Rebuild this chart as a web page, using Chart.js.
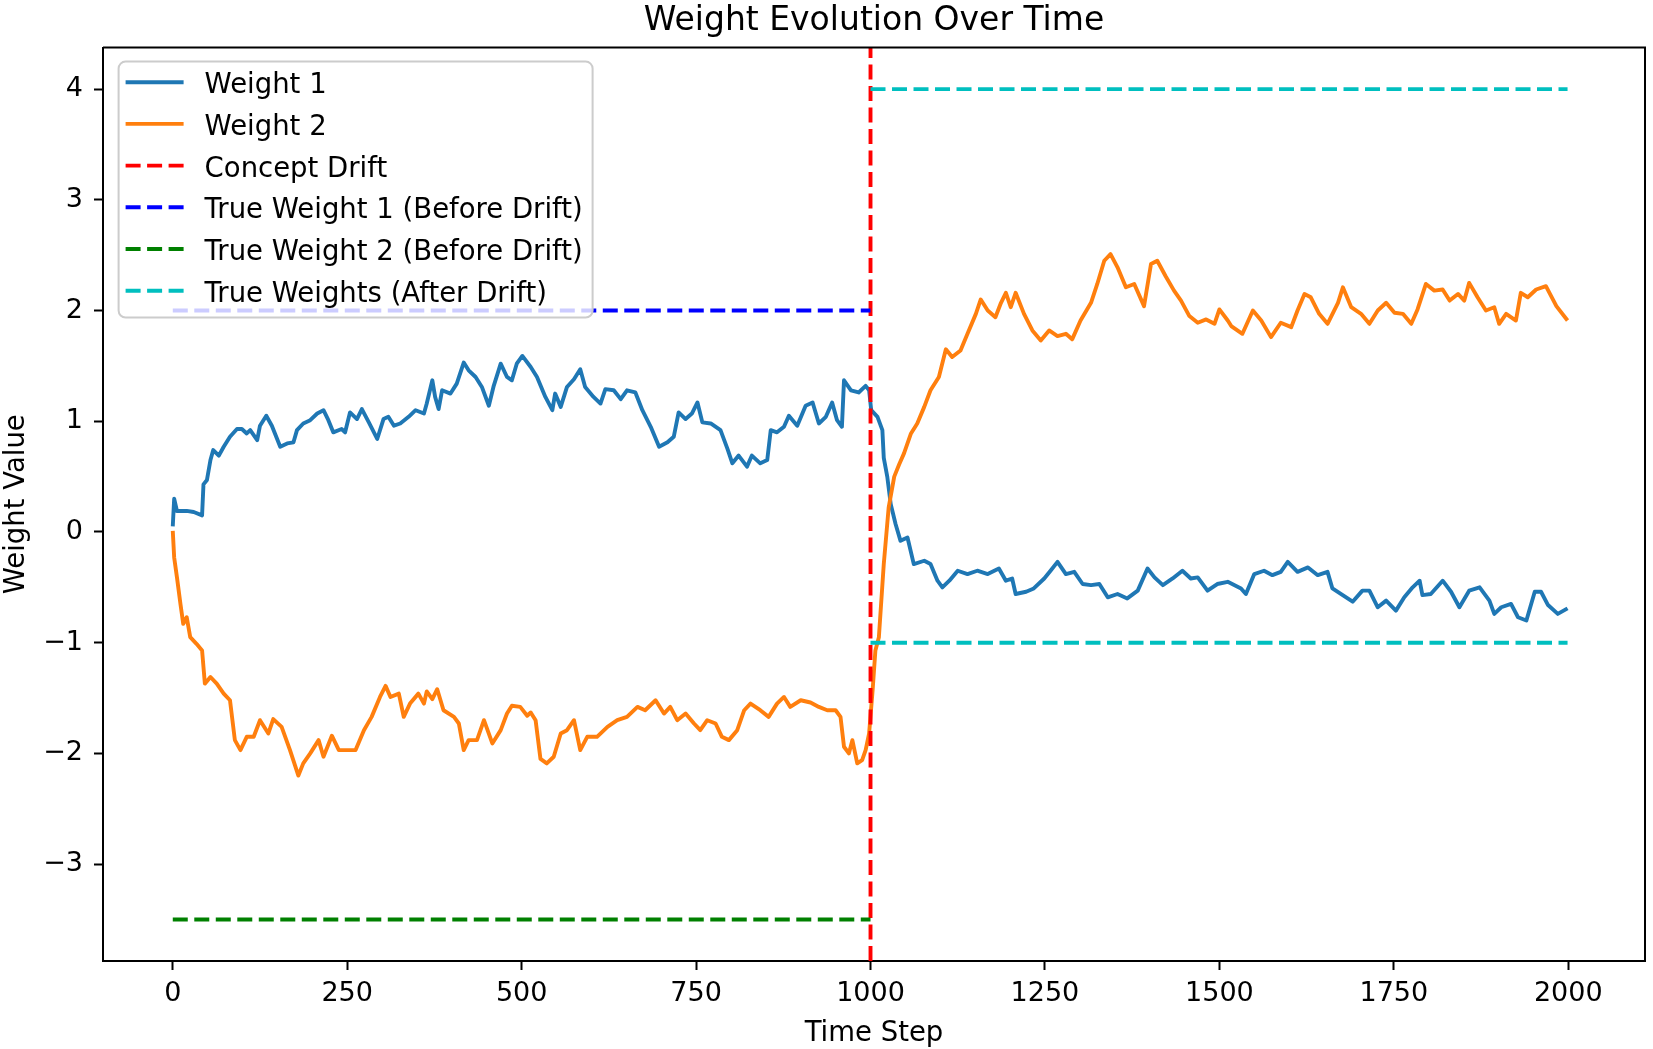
<!DOCTYPE html>
<html>
<head>
<meta charset="utf-8">
<title>Weight Evolution Over Time</title>
<script src="https://cdn.jsdelivr.net/npm/chart.js@4.4.1/dist/chart.umd.min.js"></script>
<style>
  html, body { margin: 0; padding: 0; background: #fff; }
  #grafico { display: block; }
</style>
</head>
<body>
<canvas id="grafico" width="1653" height="1049"></canvas>
<script>
// valores (passo, valor)
const w1Steps = [0, 2, 6, 20, 30, 42, 44, 49, 54, 58, 66, 73, 82, 92, 99, 106, 111, 121, 125, 134, 142, 154, 164, 173, 178, 187, 197, 207, 216, 223, 230, 242, 247, 254, 264, 271, 281, 293, 302, 309, 317, 326, 338, 348, 360, 364, 372, 376, 381, 386, 398, 407, 417, 424, 434, 443, 453, 460, 470, 479, 486, 493, 501, 513, 522, 534, 544, 548, 556, 565, 575, 584, 591, 603, 613, 620, 632, 642, 651, 663, 673, 685, 697, 709, 718, 725, 735, 744, 752, 759, 771, 785, 795, 802, 811, 823, 830, 842, 852, 857, 866, 876, 883, 895, 907, 917, 926, 936, 945, 952, 959, 962, 972, 983, 993, 998, 1001, 1010, 1017, 1019, 1024, 1029, 1036, 1043, 1053, 1062, 1077, 1086, 1096, 1103, 1113, 1125, 1139, 1153, 1168, 1184, 1194, 1203, 1208, 1223, 1234, 1249, 1258, 1268, 1280, 1292, 1304, 1316, 1328, 1340, 1354, 1368, 1383, 1397, 1407, 1419, 1433, 1447, 1459, 1469, 1483, 1497, 1512, 1531, 1538, 1550, 1564, 1576, 1588, 1598, 1612, 1627, 1641, 1655, 1662, 1674, 1691, 1705, 1715, 1727, 1739, 1753, 1765, 1777, 1787, 1791, 1803, 1820, 1832, 1844, 1858, 1873, 1887, 1894, 1904, 1918, 1928, 1940, 1952, 1961, 1971, 1985, 1999];
const w1Vals = [0.05, 0.30, 0.19, 0.19, 0.18, 0.15, 0.43, 0.47, 0.65, 0.74, 0.69, 0.77, 0.86, 0.93, 0.93, 0.89, 0.92, 0.83, 0.96, 1.05, 0.96, 0.77, 0.80, 0.81, 0.92, 0.98, 1.01, 1.07, 1.10, 1.01, 0.90, 0.93, 0.90, 1.08, 1.02, 1.11, 0.99, 0.84, 1.02, 1.04, 0.96, 0.98, 1.04, 1.10, 1.07, 1.16, 1.37, 1.22, 1.11, 1.28, 1.25, 1.34, 1.53, 1.46, 1.40, 1.31, 1.14, 1.32, 1.52, 1.40, 1.37, 1.52, 1.59, 1.49, 1.40, 1.22, 1.10, 1.25, 1.13, 1.31, 1.38, 1.47, 1.31, 1.22, 1.16, 1.29, 1.28, 1.20, 1.28, 1.26, 1.10, 0.95, 0.77, 0.81, 0.86, 1.08, 1.02, 1.07, 1.17, 0.99, 0.98, 0.92, 0.75, 0.62, 0.69, 0.59, 0.69, 0.62, 0.65, 0.92, 0.90, 0.95, 1.05, 0.96, 1.14, 1.17, 0.98, 1.04, 1.17, 1.01, 0.95, 1.37, 1.28, 1.26, 1.32, 1.28, 1.10, 1.04, 0.92, 0.67, 0.50, 0.25, 0.07, -0.08, -0.05, -0.29, -0.26, -0.29, -0.44, -0.50, -0.44, -0.35, -0.38, -0.35, -0.38, -0.33, -0.44, -0.42, -0.56, -0.54, -0.51, -0.42, -0.35, -0.27, -0.38, -0.36, -0.47, -0.48, -0.47, -0.59, -0.56, -0.60, -0.53, -0.33, -0.41, -0.48, -0.42, -0.35, -0.42, -0.41, -0.53, -0.47, -0.45, -0.51, -0.56, -0.38, -0.35, -0.39, -0.36, -0.27, -0.36, -0.32, -0.39, -0.36, -0.51, -0.56, -0.63, -0.53, -0.53, -0.68, -0.62, -0.71, -0.59, -0.50, -0.44, -0.57, -0.56, -0.44, -0.54, -0.68, -0.53, -0.50, -0.62, -0.74, -0.68, -0.65, -0.77, -0.80, -0.54, -0.54, -0.66, -0.74, -0.69];

const w2Steps = [0, 2, 6, 11, 15, 20, 25, 34, 42, 46, 54, 63, 73, 82, 89, 97, 106, 116, 125, 137, 144, 156, 168, 180, 187, 197, 209, 216, 228, 238, 250, 262, 274, 285, 297, 305, 312, 324, 331, 340, 352, 360, 364, 372, 379, 388, 403, 410, 417, 424, 436, 446, 458, 470, 479, 486, 498, 508, 513, 520, 527, 536, 546, 556, 565, 575, 584, 594, 608, 623, 637, 651, 666, 677, 692, 704, 713, 723, 735, 747, 756, 766, 778, 787, 797, 809, 819, 828, 842, 854, 866, 876, 885, 900, 914, 926, 938, 950, 957, 962, 969, 974, 981, 988, 993, 998, 1003, 1007, 1012, 1019, 1026, 1034, 1041, 1048, 1058, 1067, 1077, 1086, 1098, 1108, 1117, 1129, 1139, 1151, 1158, 1168, 1179, 1187, 1194, 1201, 1208, 1220, 1232, 1244, 1256, 1268, 1280, 1289, 1301, 1316, 1325, 1335, 1344, 1354, 1366, 1378, 1392, 1402, 1411, 1423, 1435, 1445, 1457, 1469, 1481, 1493, 1500, 1512, 1517, 1533, 1548, 1560, 1574, 1588, 1603, 1612, 1622, 1631, 1643, 1655, 1670, 1677, 1689, 1703, 1715, 1727, 1739, 1751, 1763, 1775, 1784, 1796, 1808, 1820, 1830, 1842, 1851, 1858, 1870, 1882, 1894, 1901, 1911, 1925, 1932, 1942, 1954, 1968, 1983, 1999];
const w2Vals = [0.01, -0.23, -0.41, -0.65, -0.83, -0.77, -0.95, -1.01, -1.07, -1.37, -1.31, -1.37, -1.46, -1.52, -1.88, -1.97, -1.85, -1.85, -1.70, -1.82, -1.69, -1.76, -1.97, -2.20, -2.09, -2.00, -1.88, -2.03, -1.84, -1.97, -1.97, -1.97, -1.79, -1.67, -1.49, -1.39, -1.49, -1.46, -1.67, -1.55, -1.46, -1.55, -1.44, -1.51, -1.42, -1.61, -1.67, -1.73, -1.97, -1.88, -1.88, -1.70, -1.91, -1.79, -1.64, -1.57, -1.58, -1.66, -1.63, -1.70, -2.05, -2.09, -2.03, -1.82, -1.79, -1.70, -1.97, -1.85, -1.85, -1.76, -1.70, -1.67, -1.58, -1.61, -1.52, -1.64, -1.58, -1.70, -1.64, -1.73, -1.79, -1.70, -1.73, -1.85, -1.88, -1.79, -1.61, -1.55, -1.61, -1.67, -1.55, -1.49, -1.58, -1.52, -1.54, -1.58, -1.61, -1.61, -1.67, -1.94, -2.00, -1.88, -2.09, -2.06, -1.97, -1.82, -1.43, -1.07, -0.95, -0.29, 0.22, 0.50, 0.61, 0.71, 0.89, 0.98, 1.13, 1.28, 1.40, 1.65, 1.58, 1.64, 1.79, 1.97, 2.10, 2.00, 1.94, 2.07, 2.16, 2.03, 2.16, 1.97, 1.82, 1.73, 1.82, 1.77, 1.79, 1.74, 1.91, 2.07, 2.24, 2.45, 2.51, 2.39, 2.21, 2.24, 2.04, 2.42, 2.45, 2.31, 2.18, 2.09, 1.95, 1.89, 1.92, 1.88, 2.01, 1.91, 1.86, 1.79, 2.00, 1.91, 1.76, 1.89, 1.85, 2.00, 2.15, 2.12, 1.97, 1.88, 2.07, 2.21, 2.03, 1.97, 1.88, 2.00, 2.07, 1.98, 1.97, 1.88, 2.01, 2.24, 2.18, 2.19, 2.09, 2.15, 2.09, 2.25, 2.12, 2.00, 2.03, 1.88, 1.97, 1.91, 2.16, 2.12, 2.19, 2.22, 2.04, 1.91];

const driftStep = 1000;
const lastStep = 1999;
const trueW1Before = 2;
const trueW2Before = -3.5;
const trueWeightsAfter = [4, -1];

const xTickValues = [0, 250, 500, 750, 1000, 1250, 1500, 1750, 2000];
const yTickValues = [-3, -2, -1, 0, 1, 2, 3, 4];
const xLimits = [-100, 2110];
const yLimits = [-3.875, 4.375];

const fonte = "'DejaVu Sans', sans-serif";
const tracejado = [15, 6.5];

function montarPontos(passos, valores) {
  return passos.map((p, i) => ({ x: p, y: valores[i] }));
}

function linhaDepois() {
  // duas linhas horizontais num só dataset, separadas por um ponto vazio
  const pts = [];
  trueWeightsAfter.forEach((v, i) => {
    if (i > 0) pts.push({ x: (driftStep + lastStep) / 2, y: null });
    pts.push({ x: driftStep, y: v }, { x: lastStep, y: v });
  });
  return pts;
}

const datasets = [
  { label: 'Weight 1', data: montarPontos(w1Steps, w1Vals), borderColor: '#1f77b4' },
  { label: 'Weight 2', data: montarPontos(w2Steps, w2Vals), borderColor: '#ff7f0e' },
  { label: 'Concept Drift', data: [{ x: driftStep, y: yLimits[0] }, { x: driftStep, y: yLimits[1] }], borderColor: '#ff0000', borderDash: tracejado },
  { label: 'True Weight 1 (Before Drift)', data: [{ x: 0, y: trueW1Before }, { x: driftStep, y: trueW1Before }], borderColor: '#0000ff', borderDash: tracejado },
  { label: 'True Weight 2 (Before Drift)', data: [{ x: 0, y: trueW2Before }, { x: driftStep, y: trueW2Before }], borderColor: '#008000', borderDash: tracejado },
  { label: 'True Weights (After Drift)', data: linhaDepois(), borderColor: '#00bfbf', borderDash: tracejado }
].map((ds, i, todos) => Object.assign({
  borderWidth: 3.9,
  pointRadius: 0,
  tension: 0,
  spanGaps: false,
  borderJoinStyle: 'round',
  borderCapStyle: 'butt',
  order: todos.length - i // os últimos ficam por cima, como no matplotlib
}, ds));

// legenda dentro da área do gráfico, com moldura arredondada
const legendaInterna = {
  id: 'legendaInterna',
  afterDraw(chart) {
    const ctx = chart.ctx;
    const area = chart.chartArea;

    ctx.save();
    // moldura de cima e da direita
    ctx.strokeStyle = '#000';
    ctx.lineWidth = 2;
    ctx.beginPath();
    ctx.moveTo(area.left, area.top);
    ctx.lineTo(area.right, area.top);
    ctx.lineTo(area.right, area.bottom);
    ctx.stroke();

    const x0 = area.left + 15.6;
    const y0 = area.top + 14;
    ctx.fillStyle = 'rgba(255, 255, 255, 0.8)';
    ctx.strokeStyle = '#cccccc';
    ctx.lineWidth = 2;
    ctx.beginPath();
    ctx.roundRect(x0, y0, 474, 256, 7);
    ctx.fill();
    ctx.stroke();

    ctx.font = '27.5px ' + fonte;
    ctx.textBaseline = 'middle';
    chart.data.datasets.forEach((ds, i) => {
      const y = y0 + 20.6 + i * 41.7;
      ctx.strokeStyle = ds.borderColor;
      ctx.lineWidth = ds.borderWidth;
      ctx.setLineDash(ds.borderDash || []);
      ctx.beginPath();
      ctx.moveTo(x0 + 7, y);
      ctx.lineTo(x0 + 65, y);
      ctx.stroke();
      ctx.setLineDash([]);
      ctx.fillStyle = '#000';
      ctx.fillText(ds.label, x0 + 86, y + 4);
    });
    ctx.restore();
  }
};

function formatarTick(v) {
  return v < 0 ? '\u2212' + Math.abs(v) : String(v);
}

const eixoComum = {
  type: 'linear',
  grid: { display: true, drawOnChartArea: false, drawTicks: true, tickLength: 9, tickWidth: 2, tickColor: '#000' },
  border: { display: true, color: '#000', width: 2 }
};

new Chart(document.getElementById('grafico').getContext('2d'), {
  type: 'line',
  data: { datasets: datasets },
  plugins: [legendaInterna],
  options: {
    responsive: false,
    animation: false,
    devicePixelRatio: 1,
    layout: { padding: { left: 0, right: 8, top: 0, bottom: 0 } },
    plugins: {
      legend: { display: false },
      tooltip: { enabled: false },
      title: {
        display: true,
        fullSize: false,
        text: 'Weight Evolution Over Time',
        color: '#000',
        font: { family: fonte, size: 33, weight: 'normal' },
        padding: { top: 2, bottom: 6 }
      }
    },
    scales: {
      x: Object.assign({}, eixoComum, {
        position: 'bottom',
        min: xLimits[0],
        max: xLimits[1],
        afterBuildTicks: s => { s.ticks = xTickValues.map(v => ({ value: v })); },
        afterFit: s => { s.height = 88; },
        ticks: { color: '#000', font: { family: fonte, size: 27 }, padding: 8, maxRotation: 0, autoSkip: false, callback: formatarTick },
        title: { display: true, text: 'Time Step', color: '#000', font: { family: fonte, size: 27.5, lineHeight: 1 }, padding: { top: 0, bottom: 1 } }
      }),
      y: Object.assign({}, eixoComum, {
        position: 'left',
        min: yLimits[0],
        max: yLimits[1],
        afterBuildTicks: s => { s.ticks = yTickValues.map(v => ({ value: v })); },
        afterFit: s => { s.width = 103; },
        ticks: { color: '#000', font: { family: fonte, size: 27 }, padding: 11, autoSkip: false, callback: formatarTick },
        title: { display: true, text: 'Weight Value', color: '#000', font: { family: fonte, size: 27.5 }, padding: { top: 0, bottom: 0 } }
      })
    }
  }
});
</script>
</body>
</html>
